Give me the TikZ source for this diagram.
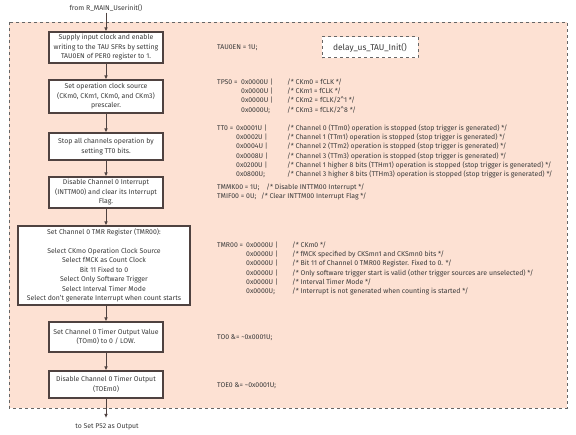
\documentclass[tikz,border=0pt]{standalone}
\usepackage{fontspec}
\setmainfont{Fira Sans}
\usetikzlibrary{arrows.meta}
\definecolor{bgpeach}{HTML}{FDE1D3}
\definecolor{txt}{HTML}{3A3A3A}
\definecolor{edge}{HTML}{4F4240}
\definecolor{dashc}{HTML}{666666}
\begin{document}
\begin{tikzpicture}[x=1pt,y=-1pt,
  stepbox/.style={draw=edge, line width=1.1pt, fill=white, minimum width=114pt, align=center, inner sep=0pt, font=\fontsize{6.9}{9.5}\selectfont, text=txt},
  code/.style={anchor=north west, inner sep=0pt, font=\fontsize{6.9}{9.3}\selectfont, text=txt},
  lbl/.style={inner sep=1pt, font=\fontsize{6.9}{9.5}\selectfont, text=txt},
  arr/.style={-{Latex[length=4pt,width=3.6pt]}, draw=edge, line width=0.9pt}]
\useasboundingbox (0,0) rectangle (576,435);
\draw[fill=bgpeach, draw=dashc, dashed, line width=0.8pt] (9,22) rectangle (567,408);

% flow
\node[lbl] (from) at (106,8) {from R\_MAIN\_Userinit()};
\node[stepbox, minimum height=31pt] (b1) at (106,47.5) {Supply input clock and enable\\writing to the TAU SFRs by setting\\TAU0EN of PER0 register to 1.};
\node[stepbox, minimum height=33pt] (b2) at (106,96.5) {Set operation clock source\\(CKm0, CKm1, CKm0, and CKm3)\\prescaler.};
\node[stepbox, minimum height=27pt] (b3) at (106,146.5) {Stop all channels operation by\\setting TT0 bits.};
\node[stepbox, minimum height=31pt] (b4) at (106,192.5) {Disable Channel 0 Interrupt\\(INTTM00) and clear its Interrupt\\Flag.};
\node[stepbox, minimum height=79pt, minimum width=172pt] (b5) at (104,265.5) {Set Channel 0 TMR Register (TMR00):\\[9.3pt]Select CKmo Operation Clock Source\\Select fMCK as Count Clock\\Bit 11 Fixed to 0\\Select Only Software Trigger\\Select Interval Timer Mode\\Select don't generate Interrupt when count starts};
\node[stepbox, minimum height=30pt] (b6) at (106,337) {Set Channel 0 Timer Output Value\\(TOm0) to 0 / LOW.};
\node[stepbox, minimum height=27pt] (b7) at (106,384.5) {Disable Channel 0 Timer Output\\(TOEm0)};
\node[lbl] (to) at (107,427) {to Set P52 as Output};
\coordinate (endp) at (106,418);

\draw[arr] (from.south) -- (b1.north);
\draw[arr] (b1) -- (b2);
\draw[arr] (b2) -- (b3);
\draw[arr] (b3) -- (b4);
\draw[arr] (b4.south) -- (b4.south |- b5.north);
\draw[arr] (b5.south -| b6.north) -- (b6.north);
\draw[arr] (b6) -- (b7);
\draw[arr] (b7.south) -- (endp);

% title box
\node[draw=dashc, dashed, line width=1pt, fill=white, minimum width=96pt, minimum height=21pt, inner sep=0pt, font=\fontsize{8.4}{10}\selectfont, text=txt] (title) at (370,47.5) {delay\_us\_TAU\_Init()};

% code
\node[code] (c1) at (217,44.5) {TAU0EN = 1U;};
\node[code] (c2) at (217,77.5) {\begin{tabular}{@{}p{24pt}@{}p{46pt}@{}l@{}}
TPS0 = & 0x0000U \textbar & /* CKm0 = fCLK */\\
 & 0x0000U \textbar & /* CKm1 = fCLK */\\
 & 0x0000U \textbar & /* CKm2 = fCLK/2\textasciicircum1 */\\
 & 0x0000U; & /* CKm3 = fCLK/2\textasciicircum8 */
\end{tabular}};
\node[code] (c3) at (217,123.5) {\begin{tabular}{@{}p{19pt}@{}p{51pt}@{}l@{}}
TT0 = & 0x0001U \textbar & /* Channel 0 (TTm0) operation is stopped (stop trigger is generated) */\\
 & 0x0002U \textbar & /* Channel 1 (TTm1) operation is stopped (stop trigger is generated) */\\
 & 0x0004U \textbar & /* Channel 2 (TTm2) operation is stopped (stop trigger is generated) */\\
 & 0x0008U \textbar & /* Channel 3 (TTm3) operation is stopped (stop trigger is generated) */\\
 & 0x0200U \textbar & /* Channel 1 higher 8 bits (TTHm1) operation is stopped (stop trigger is generated) */\\
 & 0x0800U; & /* Channel 3 higher 8 bits (TTHm3) operation is stopped (stop trigger is generated) */
\end{tabular}};
\node[code] (c4) at (217,182.5) {\begin{tabular}{@{}l@{}}
TMMK00 = 1U;\hspace{7pt}/* Disable INTTM00 Interrupt */\\
TMIF00 = 0U;\hspace{5pt}/* Clear INTTM00 Interrupt Flag */
\end{tabular}};
\node[code] (c5) at (217,240.5) {\begin{tabular}{@{}p{29pt}@{}p{46pt}@{}l@{}}
TMR00 = & 0x0000U \textbar & /* CKm0 */\\
 & 0x0000U \textbar & /* fMCK specified by CKSmn1 and CKSmn0 bits */\\
 & 0x0000U \textbar & /* Bit 11 of Channel 0 TMR00 Register. Fixed to 0. */\\
 & 0x0000U \textbar & /* Only software trigger start is valid (other trigger sources are unselected) */\\
 & 0x0000U \textbar & /* Interval Timer Mode */\\
 & 0x0000U; & /* Interrupt is not generated when counting is started */
\end{tabular}};
\node[code] (c6) at (217,334.5) {TO0 \&= \textasciitilde0x0001U;};
\node[code] (c7) at (217,382.5) {TOE0 \&= \textasciitilde0x0001U;};
\end{tikzpicture}
\end{document}
